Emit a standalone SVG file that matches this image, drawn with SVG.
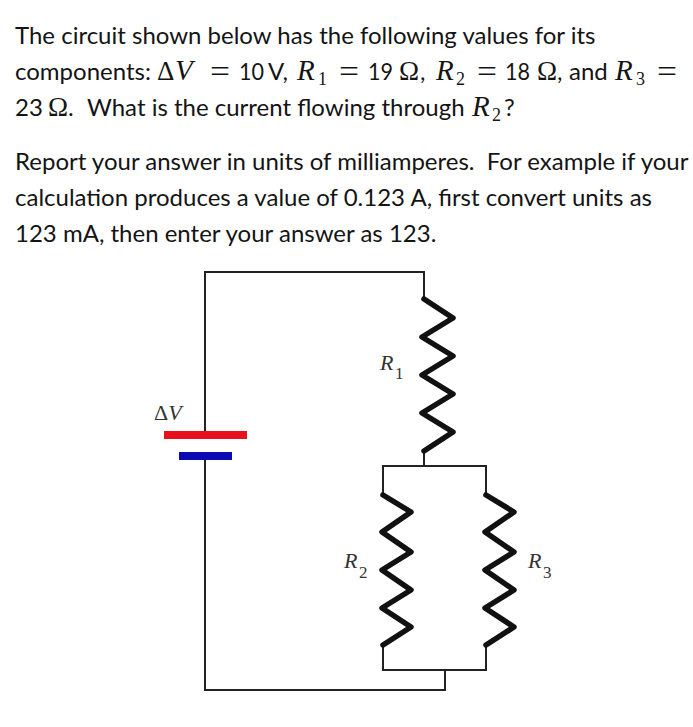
<svg xmlns="http://www.w3.org/2000/svg" width="693" height="727" viewBox="0 0 693 727">
<style>
.t{font-family:Lato,"Liberation Sans",sans-serif;font-size:24px;fill:#141414;white-space:pre}
.m{font-family:"Liberation Serif",serif;font-size:29px;font-style:italic;fill:#141414}
.u{font-family:"Liberation Serif",serif;font-size:27px;fill:#141414}
.e{font-family:"Liberation Serif",serif;font-size:32px;fill:#141414}
.s{font-family:"Liberation Serif",serif;font-size:18px;fill:#141414}
.l{font-family:"Liberation Serif",serif;font-size:22px;font-style:italic;fill:#333}
.n{font-family:"Liberation Serif",serif;font-size:17px;fill:#333}
.w{fill:none;stroke:#222;stroke-width:2}
.r{fill:none;stroke:#111;stroke-width:5.5;stroke-linejoin:round;stroke-linecap:round}
</style>
<rect width="693" height="727" fill="#fff"/>
<g id="question">
<text class="t" x="15" y="44">The circuit shown below has the following values for its</text>
<text class="t" x="15" y="80">components:</text>
<text class="u" x="157" y="80">Δ</text><text class="m" x="175" y="80">V</text>
<text class="e" x="210" y="82" textLength="20" lengthAdjust="spacingAndGlyphs">=</text>
<text class="t" x="239" y="80" textLength="25" lengthAdjust="spacingAndGlyphs">10</text><text class="t" x="268" y="80">V,</text>
<text class="m" x="297" y="80">R</text><text class="s" x="318" y="85">1</text>
<text class="e" x="339" y="82" textLength="20" lengthAdjust="spacingAndGlyphs">=</text>
<text class="t" x="368" y="80" textLength="25" lengthAdjust="spacingAndGlyphs">19</text><text class="u" x="399" y="80">Ω</text><text class="t" x="420" y="80">,</text>
<text class="m" x="436" y="80">R</text><text class="s" x="456" y="85">2</text>
<text class="e" x="477" y="82" textLength="20" lengthAdjust="spacingAndGlyphs">=</text>
<text class="t" x="505" y="80" textLength="25" lengthAdjust="spacingAndGlyphs">18</text><text class="u" x="537" y="80">Ω</text><text class="t" x="557" y="80">,</text>
<text class="t" x="569" y="80">and</text>
<text class="m" x="615" y="80">R</text><text class="s" x="636" y="85">3</text>
<text class="e" x="657" y="82" textLength="20" lengthAdjust="spacingAndGlyphs">=</text>
<text class="t" x="15" y="116">23</text><text class="u" x="48" y="116">Ω</text><text class="t" x="68" y="116">.</text>
<text class="t" x="87" y="116">What is the current flowing through</text>
<text class="m" x="472" y="116">R</text><text class="s" x="492" y="121">2</text>
<text class="t" x="504" y="116">?</text>
<text class="t" x="15" y="170">Report your answer in units of milliamperes.  For example if your</text>
<text class="t" x="15" y="206">calculation produces a value of 0.123 A, first convert units as</text>
<text class="t" x="15" y="242">123 mA, then enter your answer as 123.</text>
</g>
<g id="connectors">
<path class="w" d="M205 431V272H424V299"/>
<path class="w" d="M424 451V466"/>
<path class="w" d="M383 495V466H486V495"/>
<path class="w" d="M383 645V670H486V645"/>
<path class="w" d="M445 670V690H205V460"/>
</g>
<g id="battery">
<rect x="164" y="431" width="83" height="8" fill="#e8101a"/>
<rect x="179" y="452" width="53" height="8" fill="#0a0ab4"/>
<text class="l" x="154" y="420"><tspan font-style="normal">Δ</tspan>V</text>
</g>
<g id="R1">
<path class="r" d="M424 299L453 318L422 337L453 356L422 375L453 394L422 413L453 432L424 451"/>
<text class="l" x="380" y="370">R</text><text class="n" x="395" y="379">1</text>
</g>
<g id="R2">
<path class="r" d="M383 495L411 512L382 532L411 552L382 570L411 590L382 608L411 627L383 645"/>
<text class="l" x="344" y="568">R</text><text class="n" x="359" y="578">2</text>
</g>
<g id="R3">
<path class="r" d="M486 495L514 512L485 532L514 552L485 570L514 590L485 608L514 627L486 645"/>
<text class="l" x="528" y="568">R</text><text class="n" x="543" y="578">3</text>
</g>
</svg>
